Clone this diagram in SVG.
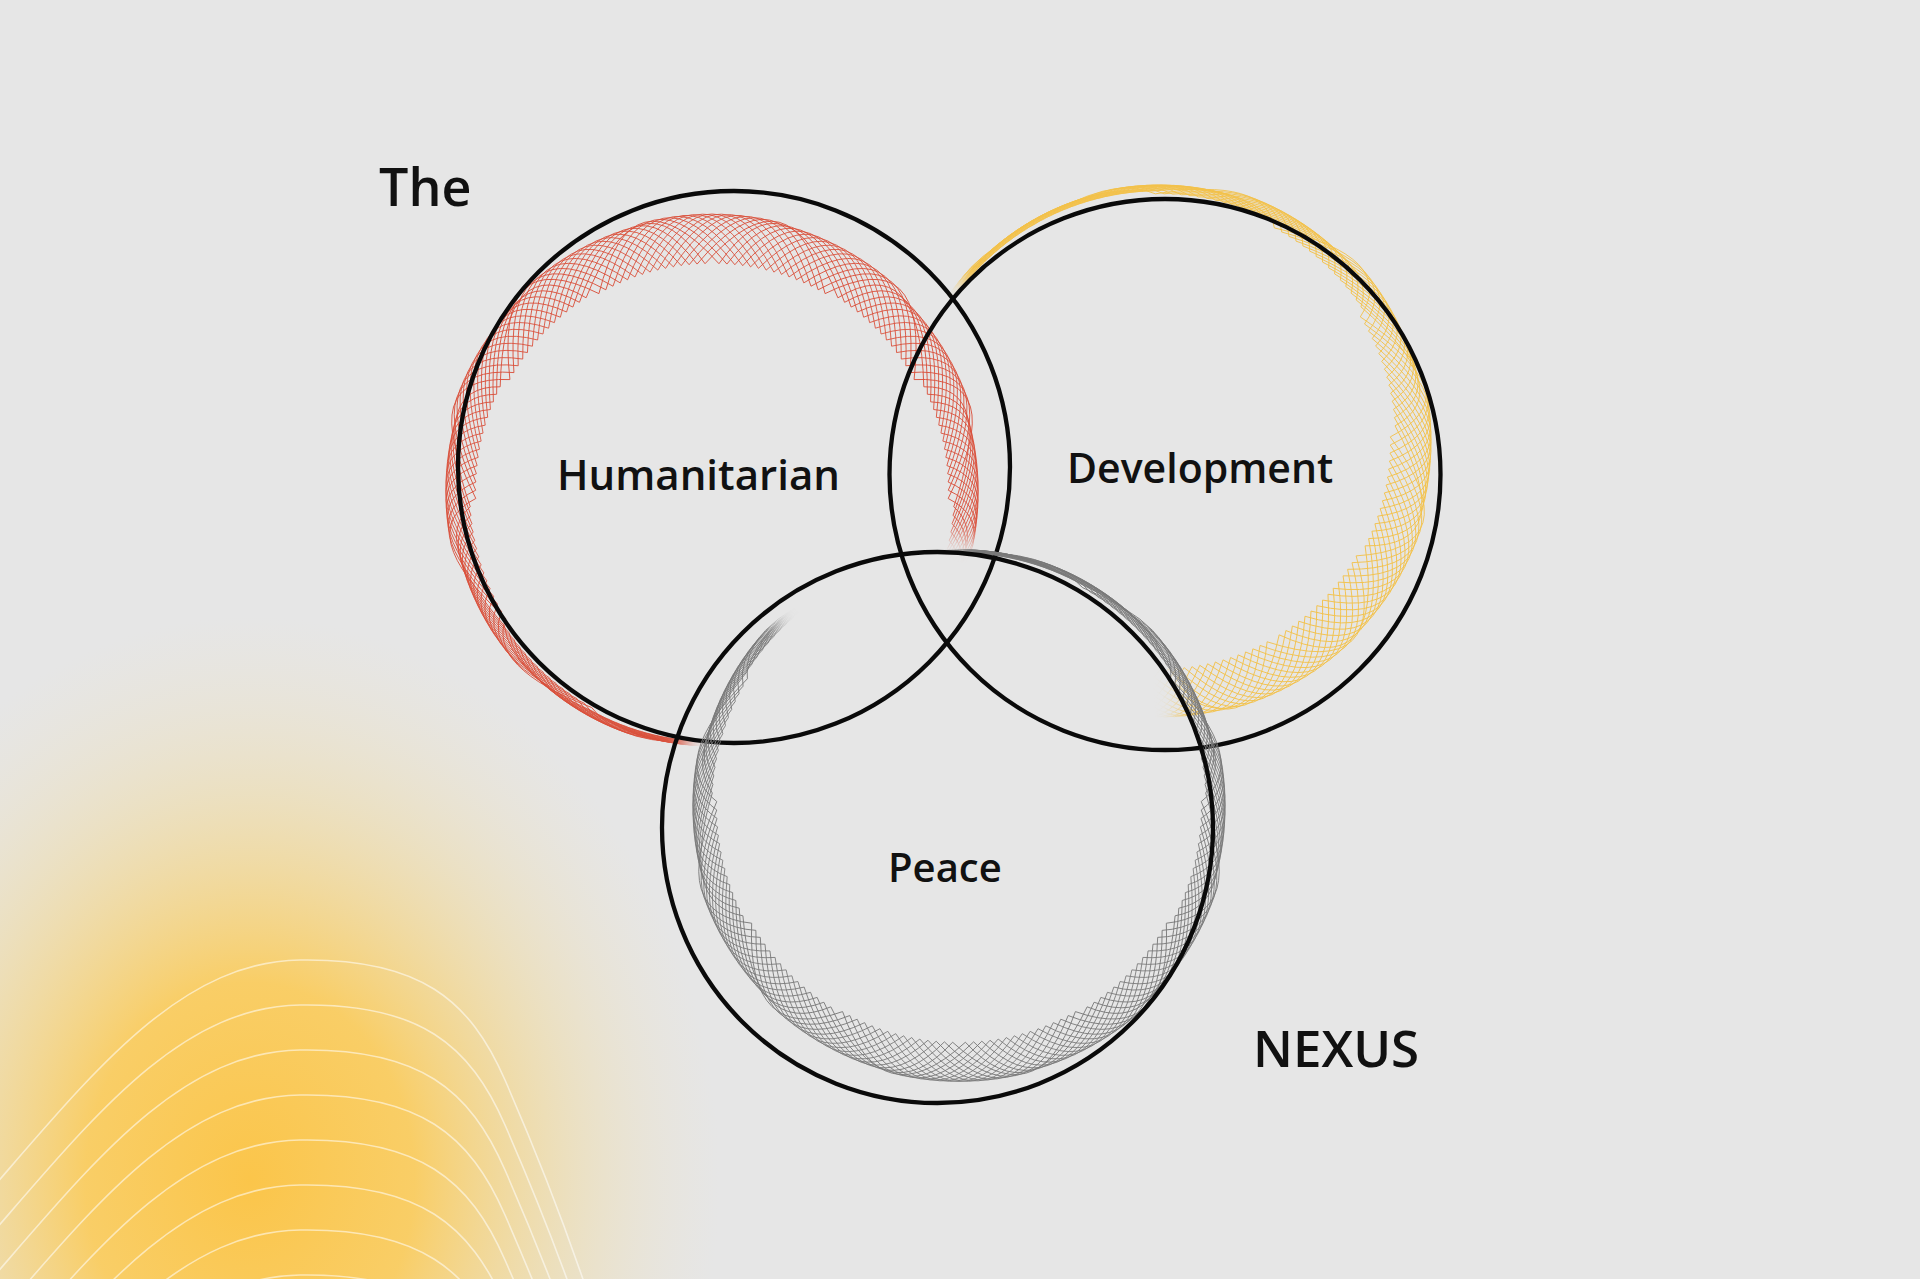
<svg xmlns="http://www.w3.org/2000/svg" width="1920" height="1279" viewBox="0 0 1920 1279">
<defs>
<style>
.bk{fill:none;stroke:#0a0a0a;stroke-width:4.3}
.mr{fill:none;stroke:#d94f3a;stroke-width:0.85}
.my{fill:none;stroke:#f2c14a;stroke-width:0.85}
.mg{fill:none;stroke:#787878;stroke-width:0.85}
.lbl{font-family:"Open Sans","Noto Sans","Liberation Sans",sans-serif;font-weight:600;fill:#111}
.wl{fill:none;stroke:#ffffff;stroke-width:1.6;opacity:0.55}
</style>
<radialGradient id="glow" gradientUnits="userSpaceOnUse" cx="250" cy="1180" r="470" gradientTransform="translate(250 1180) scale(1 1.2) translate(-250 -1180)">
<stop offset="0" stop-color="#fbc54a" stop-opacity="1"/>
<stop offset="0.35" stop-color="#fbcb58" stop-opacity="0.9"/>
<stop offset="0.7" stop-color="#f3d88f" stop-opacity="0.4"/>
<stop offset="1" stop-color="#efe2bf" stop-opacity="0"/>
</radialGradient>
<filter id="soft" x="-20%" y="-20%" width="140%" height="140%"><feGaussianBlur stdDeviation="10"/></filter>
<mask id="mR" maskUnits="userSpaceOnUse" x="0" y="0" width="1920" height="1279">
<rect x="0" y="0" width="1920" height="1279" fill="#fff"/>
<polygon fill="#000" filter="url(#soft)" points="712,480 1101.7,570 1018.4,737.1 848.8,855.9 670.2,877.8"/>
</mask>
<mask id="mY" maskUnits="userSpaceOnUse" x="0" y="0" width="1920" height="1279">
<rect x="0" y="0" width="1920" height="1279" fill="#fff"/>
<polygon fill="#000" filter="url(#soft)" points="1165,451 1185.9,850.5 907.9,757.4 766.5,485.9 858.6,193.9"/>
</mask>
<mask id="mG" maskUnits="userSpaceOnUse" x="0" y="0" width="1920" height="1279">
<rect x="0" y="0" width="1920" height="1279" fill="#fff"/>
<polygon fill="#000" filter="url(#soft)" points="959,815.5 681.1,527.8 809.2,444.6 959,415.5"/>
</mask>
<path id="arcA" d="M 230.86,-38.86 Q 301.14,-23 230.86,84.86 Q 260.79,127.57 169,192 Q 150.57,237.79 61.86,253.86 Q 0,278.14 -61.86,253.86 Q -150.57,237.79 -169,192 Q -260.79,127.57 -230.86,84.86 Q -301.14,-23 -230.86,-38.86 Q -260.79,-173.57 -169,-146 Q -150.57,-283.79 -61.86,-207.86 Q 0,-324.14 61.86,-207.86 Q 150.57,-283.79 169,-146 Q 260.79,-173.57 230.86,-38.86 Z"/>
<path id="arcG" d="M 236.17,-44.78 Q 295.83,-18.5 236.17,81.78 Q 256.19,129.415 172.89,191.39 Q 147.915,237.69 63.28,254.67 Q 0,277.33 -63.28,254.67 Q -147.915,237.69 -172.89,191.39 Q -256.19,129.415 -236.17,81.78 Q -295.83,-18.5 -236.17,-44.78 Q -256.19,-166.415 -172.89,-154.39 Q -147.915,-274.44 -63.28,-218.17 Q 0,-313.83 63.28,-218.17 Q 147.915,-274.44 172.89,-154.39 Q 256.19,-166.415 236.17,-44.78 Z"/>
<g id="meshA">
<use href="#arcA" transform="rotate(-14 0 11.5)"/>
<use href="#arcA" transform="rotate(-12 0 11.5)"/>
<use href="#arcA" transform="rotate(-10 0 11.5)"/>
<use href="#arcA" transform="rotate(-8 0 11.5)"/>
<use href="#arcA" transform="rotate(-6 0 11.5)"/>
<use href="#arcA" transform="rotate(-4 0 11.5)"/>
<use href="#arcA" transform="rotate(-2 0 11.5)"/>
<use href="#arcA"/>
<use href="#arcA" transform="rotate(2 0 11.5)"/>
<use href="#arcA" transform="rotate(4 0 11.5)"/>
<use href="#arcA" transform="rotate(6 0 11.5)"/>
<use href="#arcA" transform="rotate(8 0 11.5)"/>
<use href="#arcA" transform="rotate(10 0 11.5)"/>
<use href="#arcA" transform="rotate(12 0 11.5)"/>
<use href="#arcA" transform="rotate(14 0 11.5)"/>
</g>
<g id="meshG">
<use href="#arcG" transform="rotate(-14 0 9.25)"/>
<use href="#arcG" transform="rotate(-12 0 9.25)"/>
<use href="#arcG" transform="rotate(-10 0 9.25)"/>
<use href="#arcG" transform="rotate(-8 0 9.25)"/>
<use href="#arcG" transform="rotate(-6 0 9.25)"/>
<use href="#arcG" transform="rotate(-4 0 9.25)"/>
<use href="#arcG" transform="rotate(-2 0 9.25)"/>
<use href="#arcG"/>
<use href="#arcG" transform="rotate(2 0 9.25)"/>
<use href="#arcG" transform="rotate(4 0 9.25)"/>
<use href="#arcG" transform="rotate(6 0 9.25)"/>
<use href="#arcG" transform="rotate(8 0 9.25)"/>
<use href="#arcG" transform="rotate(10 0 9.25)"/>
<use href="#arcG" transform="rotate(12 0 9.25)"/>
<use href="#arcG" transform="rotate(14 0 9.25)"/>
</g>
</defs>

<rect x="0" y="0" width="1920" height="1279" fill="#e6e6e6"/>
<rect x="0" y="500" width="1000" height="779" fill="url(#glow)"/>

<g id="contours">
<path class="wl" d="M -40,1225 C 80,1090 170,962 300,960 C 420,958 470,1000 505,1080 C 540,1160 570,1240 590,1300"/>
<path class="wl" d="M -40,1270 C 80,1135 170,1007 300,1005 C 420,1003 470,1045 505,1125 C 540,1205 570,1285 590,1345"/>
<path class="wl" d="M -40,1315 C 80,1180 170,1052 300,1050 C 420,1048 470,1090 505,1170 C 540,1250 570,1330 590,1390"/>
<path class="wl" d="M -40,1360 C 80,1225 170,1097 300,1095 C 420,1093 470,1135 505,1215 C 540,1295 570,1375 590,1435"/>
<path class="wl" d="M -40,1405 C 80,1270 170,1142 300,1140 C 420,1138 470,1180 505,1260 C 540,1340 570,1420 590,1480"/>
<path class="wl" d="M -40,1450 C 80,1315 170,1187 300,1185 C 420,1183 470,1225 505,1305 C 540,1385 570,1465 590,1525"/>
<path class="wl" d="M -40,1495 C 80,1360 170,1232 300,1230 C 420,1228 470,1270 505,1350 C 540,1430 570,1510 590,1570"/>
<path class="wl" d="M -40,1540 C 80,1405 170,1277 300,1275 C 420,1273 470,1315 505,1395 C 540,1475 570,1555 590,1615"/>
</g>

<g id="node-humanitarian">
<g class="mr" mask="url(#mR)">
<use href="#meshA" transform="translate(712 480)"/>
</g>
<circle class="bk" cx="734" cy="467" r="276"/>
<text class="lbl" x="557" y="490" font-size="42">Humanitarian</text>
</g>

<g id="node-development">
<g class="my" mask="url(#mY)">
<use href="#meshA" transform="translate(1165 451) rotate(150)"/>
</g>
<circle class="bk" cx="1165" cy="474.5" r="275.5"/>
<text class="lbl" x="1067" y="483" font-size="41">Development</text>
</g>

<g id="node-peace">
<g class="mg" mask="url(#mG)">
<use href="#meshG" transform="translate(959 815.5) rotate(180)"/>
</g>
<circle class="bk" cx="937.5" cy="827.5" r="275.5"/>
<text class="lbl" x="888" y="881.5" font-size="40">Peace</text>
</g>

<g id="title">
<text class="lbl" x="379" y="206" font-size="52">The</text>
<text class="lbl" x="1253" y="1067" font-size="51">NEXUS</text>
</g>
</svg>
